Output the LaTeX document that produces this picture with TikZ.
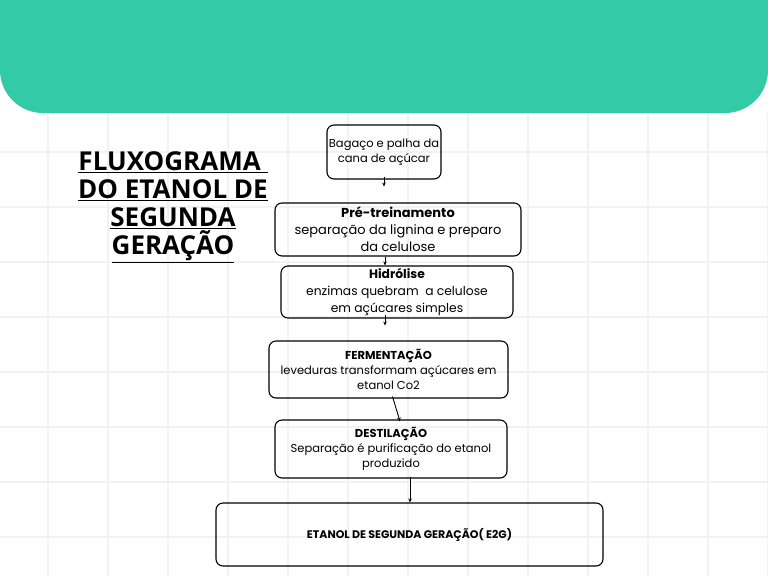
\documentclass[tikz,border=0pt]{standalone}
\usepackage{fontspec}
\setmainfont{Poppins}
\newfontfamily\titlefont{Open Sans}
\usetikzlibrary{arrows.meta}
\definecolor{teal1}{HTML}{33CBA7}
\definecolor{gridc}{HTML}{F2F2F2}
\begin{document}
\begin{tikzpicture}[x=1pt,y=-1pt,
  stepbox/.style={draw=black,line width=1.1pt,rounded corners=7pt,align=center,font=\fontsize{11.5}{15}\selectfont,inner sep=0pt},
  arr/.style={-{Stealth[length=4pt,width=3.5pt]},line width=0.9pt}]
\useasboundingbox (0,0) rectangle (768,576);
\fill[white] (0,0) rectangle (768,576);
\foreach \x in {48,108,...,768} \draw[gridc,line width=2pt] (\x,113) -- (\x,576);
\foreach \y in {152,207,...,576} \draw[gridc,line width=2pt] (0,\y) -- (768,\y);
\fill[teal1] (0,0) -- (768,0) -- (768,70) arc[start angle=0,end angle=90,radius=43] -- (43,113) arc[start angle=90,end angle=180,radius=43] -- cycle;
\node[font=\titlefont\bfseries\fontsize{26}{28}\selectfont,align=center] (title) at (173,207)
 {\underline{FLUXOGRAMA }\\\underline{DO ETANOL DE}\\\underline{SEGUNDA}\\\underline{GERAÇÃO}};
\node[stepbox,minimum width=114pt,minimum height=54pt] (b1) at (384,152) {Bagaço e palha da\\cana de açúcar};
\node[stepbox,minimum width=246pt,minimum height=53pt,font=\fontsize{13}{17}\selectfont] (b2) at (398,229.5) {\textbf{Pré-treinamento}\\separação da lignina e preparo\\da celulose};
\node[stepbox,minimum width=232pt,minimum height=52pt,font=\fontsize{12.3}{17}\selectfont] (b3) at (397,292) {\textbf{Hidrólise}\\enzimas quebram\ \ a celulose\\em açúcares simples};
\node[stepbox,minimum width=239pt,minimum height=57pt] (b4) at (388.5,369.5) {\textbf{FERMENTAÇÃO}\\leveduras transformam açúcares em\\etanol Co2};
\node[stepbox,minimum width=232pt,minimum height=58pt] (b5) at (391,449) {\textbf{DESTILAÇÃO}\\Separação é purificação do etanol\\produzido};
\node[stepbox,minimum width=387pt,minimum height=63pt,font=\bfseries\fontsize{11}{13}\selectfont] (b6) at (409.5,534.5) {ETANOL DE SEGUNDA GERAÇÃO( E2G)};
\draw[arr] ([yshift=3pt]b1.south) -- ++(0,10);
\draw[arr] (b2.south -| 385,0) -- (b3.north -| 385,0);
\draw[arr] ([xshift=-12pt,yshift=4pt]b3.south) -- ++(0,11);
\draw[arr] ([xshift=4pt,yshift=2pt]b4.south) -- ([xshift=9pt,yshift=-2pt]b5.north);
\draw[arr] ([xshift=19pt,yshift=2pt]b5.south) -- ([xshift=0.5pt]b6.north);
\end{tikzpicture}
\end{document}
